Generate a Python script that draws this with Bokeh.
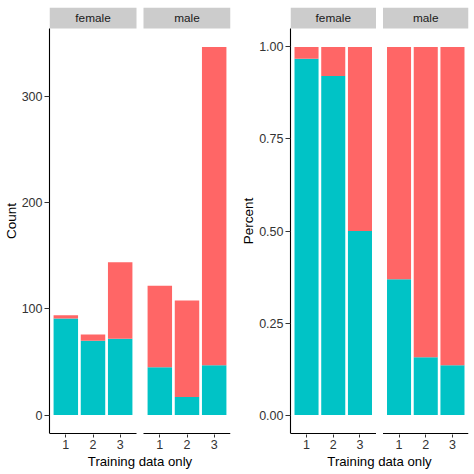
from bokeh.plotting import figure
from bokeh.layouts import row
from bokeh.models import Range1d, FixedTicker, CustomJSTickFormatter, NumeralTickFormatter
from bokeh.core.properties import value
from bokeh.embed import file_html
from bokeh.resources import INLINE

# ---- data (Titanic training data: survived / died by class and sex) ----
pclass = [1, 2, 3]
sexes = ["female", "male"]
survived_female = [91, 70, 72]
died_female = [3, 6, 72]
survived_male = [45, 17, 47]
died_male = [77, 91, 300]
count_ticks = [0, 100, 200, 300]
percent_ticks = [0.0, 0.25, 0.5, 0.75, 1.0]
x_title = "Training data only"

RED = "#FF6666"
TEAL = "#00C3C6"
STRIP = "#CCCCCC"
FONT = "Liberation Sans"


def make_panel(surv, died, ymax, yticks, yfmt, ytitle, frame_w, bl, br):
    PANEL_H = 405.0
    STRIP_H = 21.0
    EXTRA = 1.0
    GAP_PX = 7.0
    lo = -0.05 * ymax
    hi = 1.05 * ymax
    upp = (hi - lo) / PANEL_H
    y_start = lo - EXTRA * upp
    y_end = hi + STRIP_H * upp
    unit_px = (frame_w - GAP_PX) / 6.4
    gap_u = GAP_PX / unit_px
    off = 3.2 + gap_u
    x_end = 0.4 + 6.4 + gap_u

    p = figure(frame_width=frame_w, frame_height=int(PANEL_H + STRIP_H + EXTRA),
               x_range=Range1d(0.4, x_end), y_range=Range1d(y_start, y_end),
               output_backend="svg", toolbar_location=None,
               min_border_left=bl, min_border_right=br,
               min_border_top=7, min_border_bottom=30)
    p.grid.visible = False
    p.outline_line_color = None
    p.background_fill_color = "white"
    p.border_fill_color = "white"

    for i, (s, d) in enumerate(zip(surv, died)):
        xs = [c + i * off for c in pclass]
        tops = [a + b for a, b in zip(s, d)]
        p.vbar(x=xs, width=0.9, bottom=0, top=s, fill_color=TEAL, line_color=None)
        p.vbar(x=xs, width=0.9, bottom=s, top=tops, fill_color=RED, line_color=None)

    # facet strips
    p.quad(left=[0.4, 0.4 + off], right=[3.6, 3.6 + off], bottom=hi, top=y_end,
           fill_color=STRIP, line_color=None)
    p.text(x=[2, 2 + off], y=[(hi + y_end) / 2] * 2, text=sexes,
           text_align="center", text_baseline="middle",
           text_font=value(FONT), text_font_size="11.8px", text_color="#1A1A1A")

    # x axis line per facet
    p.segment(x0=[0.4, 0.4 + off], x1=[3.6, 3.6 + off], y0=[lo, lo], y1=[lo, lo],
              line_color="black", line_width=1.1)

    xa = p.xaxis[0]
    xa.ticker = FixedTicker(ticks=[c for c in pclass] + [c + off for c in pclass])
    xa.formatter = CustomJSTickFormatter(args=dict(off=off),
        code="return String(tick > 3.7 ? Math.round(tick - off) : Math.round(tick));")
    xa.axis_line_color = None
    xa.major_tick_out = 3
    xa.major_tick_in = 0
    xa.minor_tick_line_color = None
    xa.major_tick_line_color = "#333333"
    xa.major_label_text_font = FONT
    xa.major_label_text_font_size = "12.5px"
    xa.major_label_text_color = "#333333"
    xa.major_label_standoff = 2
    xa.axis_label = x_title
    xa.axis_label_text_font = FONT
    xa.axis_label_text_font_size = "13.2px"
    xa.axis_label_text_font_style = "normal"
    xa.axis_label_text_color = "black"
    xa.axis_label_standoff = 2

    ya = p.yaxis[0]
    ya.bounds = (lo, hi)
    ya.ticker = FixedTicker(ticks=yticks)
    ya.formatter = NumeralTickFormatter(format=yfmt)
    ya.axis_line_color = "black"
    ya.axis_line_width = 1.1
    ya.major_tick_out = 5
    ya.major_tick_in = 0
    ya.minor_tick_line_color = None
    ya.major_tick_line_color = "#333333"
    ya.major_label_text_font = FONT
    ya.major_label_text_font_size = "12.5px"
    ya.major_label_text_color = "#333333"
    ya.major_label_standoff = 2
    ya.axis_label = ytitle
    ya.axis_label_text_font = FONT
    ya.axis_label_text_font_size = "13.5px"
    ya.axis_label_text_font_style = "normal"
    ya.axis_label_text_color = "black"
    ya.axis_label_standoff = 0
    return p


count_max = max(a + b for a, b in zip(survived_female + survived_male, died_female + died_male))
p1 = make_panel([survived_female, survived_male], [died_female, died_male],
                count_max, count_ticks, "0", "Count", 181, 49, 6)

pf_s = [s / (s + d) for s, d in zip(survived_female, died_female)]
pf_d = [d / (s + d) for s, d in zip(survived_female, died_female)]
pm_s = [s / (s + d) for s, d in zip(survived_male, died_male)]
pm_d = [d / (s + d) for s, d in zip(survived_male, died_male)]
p2 = make_panel([pf_s, pm_s], [pf_d, pm_d], 1.0, percent_ticks, "0.00", "Percent", 178, 54, 2)

layout = row(p1, p2)
open("out.html", "w").write(file_html(layout, INLINE))
